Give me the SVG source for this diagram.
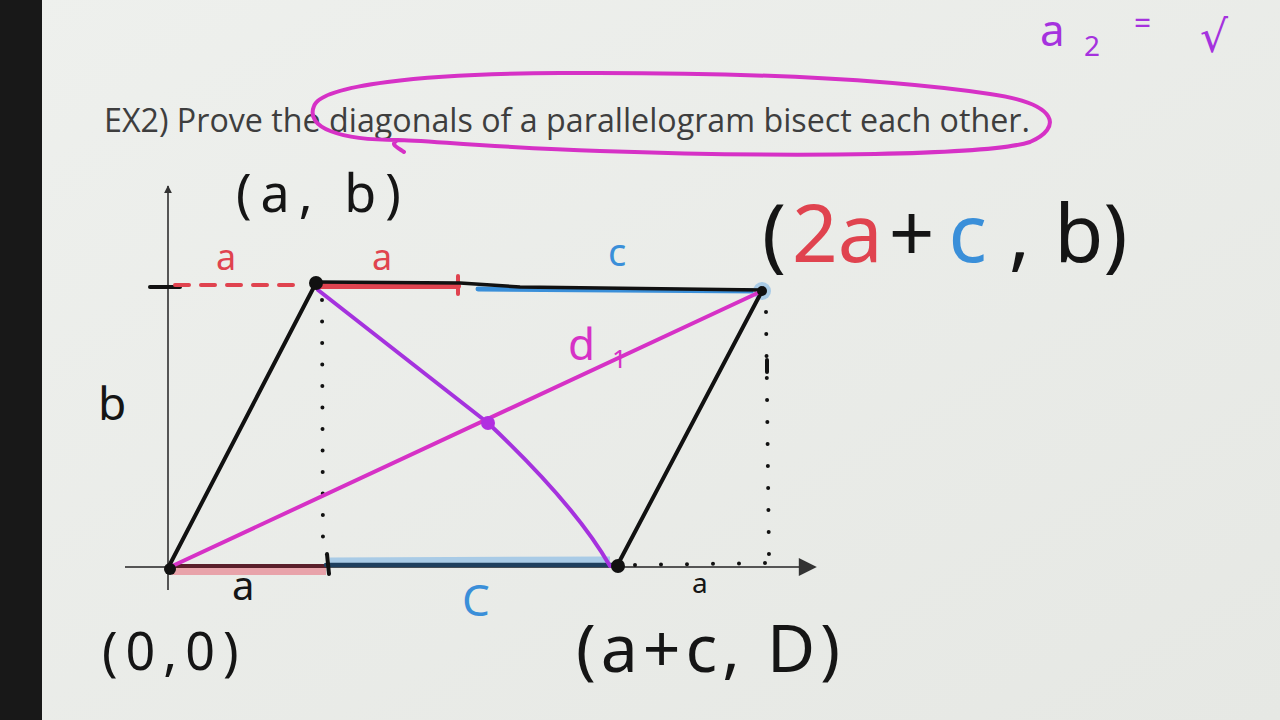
<svg xmlns="http://www.w3.org/2000/svg" width="1280" height="720" viewBox="0 0 1280 720">
<defs>
<linearGradient id="paper" x1="0" y1="0" x2="1" y2="1">
<stop offset="0" stop-color="#eef0ed"/>
<stop offset="1" stop-color="#e6e8e4"/>
</linearGradient>
<marker id="arr" viewBox="0 0 10 10" refX="9" refY="5" markerWidth="8" markerHeight="8" orient="auto" markerUnits="userSpaceOnUse">
<path d="M0,0 L10,5 L0,10 z" fill="#333"/>
</marker>
<marker id="arrX" viewBox="0 0 10 10" refX="9" refY="5" markerWidth="22" markerHeight="18" orient="auto" markerUnits="userSpaceOnUse">
<path d="M0,0 L10,5 L0,10 z" fill="#333"/>
</marker>
</defs>
<style>
.hand{font-family:"Noto Sans","DejaVu Sans",sans-serif;}
.blk{fill:#151515;}
.red{fill:#e0434f;}
.blue{fill:#3a8fd9;}
.mag{fill:#d631c6;}
.pur{fill:#a532de;}
.axis{stroke:#555;stroke-width:2;fill:none;}
.ln{fill:none;stroke-linecap:round;stroke-linejoin:round;}
.dot{fill:#111;}
</style>
<rect width="1280" height="720" fill="url(#paper)"/>
<rect x="0" y="0" width="42" height="720" fill="#181818"/>

<!-- title -->
<text x="104" y="132" font-family="'Open Sans','Liberation Sans',sans-serif" font-size="33" fill="#3e3e3e" textLength="926" lengthAdjust="spacingAndGlyphs">EX2) Prove the diagonals of a parallelogram bisect each other.</text>
<path class="ln" d="M404,152 C395,146 390,144 398,140 C340,140 305,128 314,106 C322,85 420,74 560,73 C720,72 880,78 990,94 C1060,104 1062,128 1030,142 C990,155 800,158 600,151 C500,148 420,140 398,140" stroke="#d631c6" stroke-width="4"/>

<!-- top right partial -->
<text class="hand pur" x="1040" y="46" font-size="44">a</text>
<text class="hand pur" x="1084" y="56" font-size="28">2</text>
<text class="hand pur" x="1134" y="34" font-size="30">=</text>
<text class="hand pur" x="1200" y="52" font-size="44">√</text>

<!-- axes -->
<g id="axes">
<line class="axis" x1="168" y1="590" x2="168" y2="186" marker-end="url(#arr)"/>
<line class="axis" x1="125" y1="567" x2="815" y2="567" marker-end="url(#arrX)"/>
<line x1="150" y1="287" x2="180" y2="287" stroke="#111" stroke-width="4" stroke-linecap="round"/>
</g>

<!-- dotted guides -->
<g id="guides">
<line x1="322" y1="300" x2="323" y2="552" stroke="#111" stroke-width="4" stroke-linecap="round" stroke-dasharray="0 21.5"/>
<line x1="766" y1="312" x2="769" y2="558" stroke="#111" stroke-width="4" stroke-linecap="round" stroke-dasharray="0 22"/>
<line x1="767" y1="360" x2="767" y2="372" stroke="#111" stroke-width="4" stroke-linecap="round"/>
<line x1="635" y1="565" x2="768" y2="563" stroke="#111" stroke-width="4" stroke-linecap="round" stroke-dasharray="0 26"/>
</g>

<!-- highlights -->
<g id="highlights">
<line class="ln" x1="175" y1="285" x2="300" y2="285" stroke="#e0434f" stroke-width="4" stroke-dasharray="14 12"/>
<line class="ln" x1="320" y1="286" x2="458" y2="286" stroke="#e0434f" stroke-width="6"/>
<line class="ln" x1="458" y1="276" x2="458" y2="294" stroke="#e0434f" stroke-width="4"/>
<line class="ln" x1="478" y1="289" x2="760" y2="291" stroke="#3a8fd9" stroke-width="5"/>
<line x1="172" y1="571" x2="326" y2="571" stroke="#e8a3aa" stroke-width="8"/>
<line x1="330" y1="562" x2="610" y2="561" stroke="#a9cbe6" stroke-width="9"/>
<circle cx="762" cy="291" r="9" fill="#a9cbe6"/>
</g>

<!-- parallelogram -->
<g id="connectors">
<path class="ln" d="M168,568 L316,283" stroke="#111" stroke-width="4"/>
<path class="ln" d="M617,566 L762,291" stroke="#111" stroke-width="4"/>
<path class="ln" d="M316,282 L460,283 L520,287 L762,290" stroke="#111" stroke-width="3.5"/>
<path class="ln" d="M170,566 L326,566" stroke="#5a1f2a" stroke-width="4"/>
<path class="ln" d="M326,565 L612,565" stroke="#1e3f5e" stroke-width="4.5"/>
<path class="ln" d="M327,554 L329,574" stroke="#111" stroke-width="4"/>
<path class="ln" d="M318,290 L488,423 Q575,505 610,566" stroke="#a532de" stroke-width="4"/>
<path class="ln" d="M168,568 L762,291" stroke="#d631c6" stroke-width="4"/>
</g>

<!-- points -->
<g id="points">
<circle class="dot" cx="316" cy="283" r="7"/>
<circle class="dot" cx="762" cy="291" r="5"/>
<circle class="dot" cx="170" cy="569" r="6"/>
<circle class="dot" cx="618" cy="566" r="7"/>
<circle cx="488" cy="423" r="7" fill="#b12ee0"/>
</g>

<!-- labels -->
<g id="labels">
<text class="hand blk" x="236" y="212" font-size="52" letter-spacing="9">(a, b)</text>
<text class="hand red" x="216" y="270" font-size="36">a</text>
<text class="hand red" x="372" y="270" font-size="36">a</text>
<text class="hand blue" x="608" y="266" font-size="38">c</text>
<text class="hand" x="762" y="262" font-size="80"><tspan class="blk">(</tspan><tspan class="red" dx="6">2a</tspan><tspan class="blk" dx="6">+</tspan><tspan class="blue" dx="14">c</tspan><tspan class="blk" dx="22">,</tspan><tspan class="blk" dx="24">b)</tspan></text>
<text class="hand blk" x="98" y="420" font-size="46">b</text>
<text class="hand mag" x="568" y="360" font-size="44">d</text>
<text class="hand mag" x="612" y="368" font-size="26">1</text>
<text class="hand blk" x="232" y="600" font-size="40">a</text>
<text class="hand blue" x="462" y="616" font-size="44">C</text>
<text class="hand blk" x="692" y="593" font-size="28">a</text>
<text class="hand blk" x="102" y="670" font-size="52" letter-spacing="8">(0,0)</text>
<text class="hand blk" x="576" y="672" font-size="66" letter-spacing="5">(a+c, D)</text>
</g>
</svg>
